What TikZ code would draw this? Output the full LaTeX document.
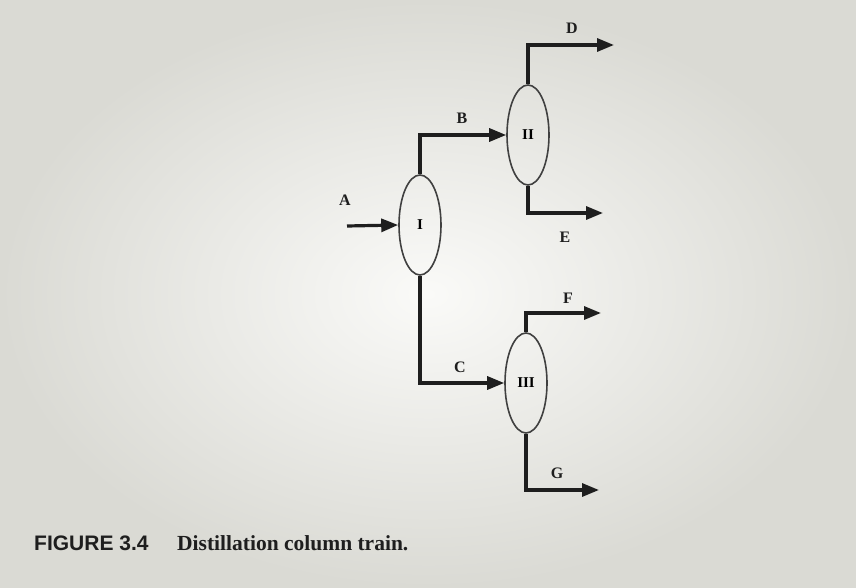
\documentclass[tikz,border=0pt]{standalone}
\usepackage{fontspec}
\setmainfont{Liberation Serif}
\newfontfamily\capsans{Liberation Sans}
\usetikzlibrary{shapes.geometric,arrows.meta}
\definecolor{ink}{RGB}{30,30,30}
\definecolor{bgin}{RGB}{250,250,248}
\definecolor{bgout}{RGB}{218,218,212}
\tikzset{
  column/.style={ellipse, draw=ink!85, line width=1.6pt, minimum width=42pt, minimum height=100pt, inner sep=0pt, font=\bfseries\fontsize{15}{15}\selectfont},
  stream/.style={draw=ink, line width=3.2pt, -{Triangle[length=17pt,width=13pt]}},
  lbl/.style={font=\bfseries\fontsize{16}{16}\selectfont, text=ink, inner sep=0pt}
}
\begin{document}
\begin{tikzpicture}[x=1pt,y=-1pt]
\shade[inner color=bgin, outer color=bgout] (0,0) rectangle (856,588);
\useasboundingbox (0,0) rectangle (856,588);
% columns
\node[column] (c1) at (420,225) {I};
\node[column] (c2) at (528,135) {II};
\node[column] (c3) at (526,383) {III};
% free ends
\coordinate (aStart) at (347,226);
\coordinate (dEnd) at (614,45);
\coordinate (eEnd) at (603,213);
\coordinate (fEnd) at (601,313);
\coordinate (gEnd) at (599,490);
% streams
\draw[stream] (aStart) -- (c1.west);
\draw[stream] (c1.north) |- (c2.west);
\draw[stream] (c1.south) |- (c3.west);
\draw[stream] (c2.north) |- (dEnd);
\draw[stream] (c2.south) |- (eEnd);
\draw[stream] (c3.north) |- (fEnd);
\draw[stream] (c3.south) |- (gEnd);
% labels
\node[lbl] (lA) at (345,200) {A};
\node[lbl] (lB) at (462,118) {B};
\node[lbl] (lC) at (460,367) {C};
\node[lbl] (lD) at (572,28) {D};
\node[lbl] (lE) at (565,237) {E};
\node[lbl] (lF) at (568,298) {F};
\node[lbl] (lG) at (557,473) {G};
% caption
\node[anchor=west, inner sep=0pt, font=\capsans\bfseries\fontsize{21}{21}\selectfont, text=ink] (cap1) at (34,543) {FIGURE 3.4};
\node[anchor=west, inner sep=0pt, font=\bfseries\fontsize{21.5}{21.5}\selectfont, text=ink] (cap2) at (177,543) {Distillation column train.};
\end{tikzpicture}
\end{document}
